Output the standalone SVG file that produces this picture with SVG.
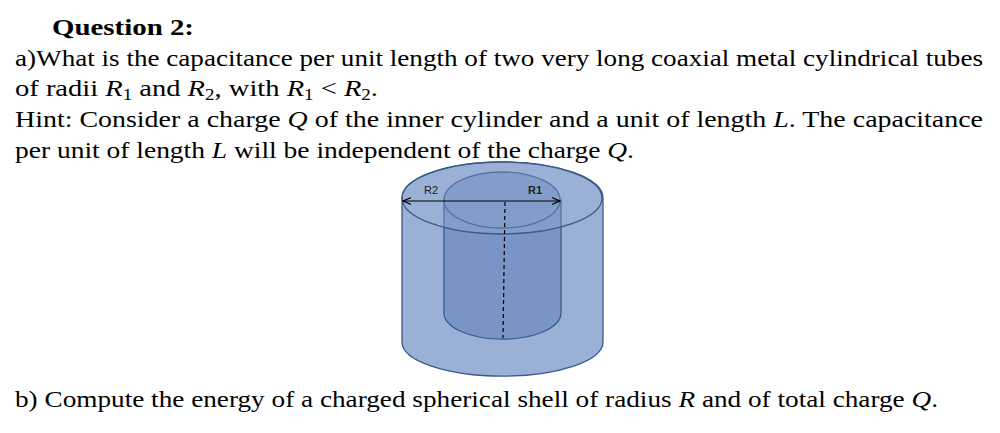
<svg xmlns="http://www.w3.org/2000/svg" width="1000" height="433" viewBox="0 0 1000 433">
<style>
.t{font-family:"Liberation Serif",serif;font-size:24px;fill:#000}
.i{font-style:italic}
.s{font-size:16px}
.sh{stroke:#3a5a8a;stroke-width:1.3}
.lb{font-family:"Liberation Sans",sans-serif;font-size:11px;fill:#222}
</style>
<defs><marker id="a" markerWidth="8" markerHeight="8" refX="7" refY="4" orient="auto-start-reverse"><path d="M0,1 L7,4 L0,7" fill="none" stroke="#000" stroke-width="1"/></marker></defs>
<rect width="1000" height="433" fill="#fff"/>
<text class="t" x="52" y="35" font-weight="bold" textLength="142" lengthAdjust="spacingAndGlyphs">Question 2:</text>
<text class="t" x="15" y="66" textLength="968" lengthAdjust="spacingAndGlyphs">a)What is the capacitance per unit length of two very long coaxial metal cylindrical tubes</text>
<text class="t" x="15" y="96" textLength="363" lengthAdjust="spacingAndGlyphs">of radii <tspan class="i">R</tspan><tspan class="s" dy="4">1</tspan><tspan dy="-4"> and </tspan><tspan class="i">R</tspan><tspan class="s" dy="4">2</tspan><tspan dy="-4">, with </tspan><tspan class="i">R</tspan><tspan class="s" dy="4">1</tspan><tspan dy="-4"> &lt; </tspan><tspan class="i">R</tspan><tspan class="s" dy="4">2</tspan><tspan dy="-4">.</tspan></text>
<text class="t" x="15" y="127" textLength="968" lengthAdjust="spacingAndGlyphs">Hint: Consider a charge <tspan class="i">Q</tspan> of the inner cylinder and a unit of length <tspan class="i">L</tspan>. The capacitance</text>
<text class="t" x="15" y="158" textLength="619" lengthAdjust="spacingAndGlyphs">per unit of length <tspan class="i">L</tspan> will be independent of the charge <tspan class="i">Q</tspan>.</text>
<g id="outer">
<path class="sh" d="M402,198 A100,36 0 0 1 603,198 V342 A100,34 0 0 1 402,342 Z" fill="#9ab0d6"/>
</g>
<g id="inner">
<path class="sh" d="M444,200 V313 A58,26 0 0 0 561,313 V200 Z" fill="#7895c5"/>
<ellipse class="sh" cx="502" cy="200" rx="58" ry="28" fill="#7895c5"/>
</g>
<g id="outertop">
<ellipse class="sh" cx="502" cy="198" rx="100" ry="36" fill="#9ab0d6" fill-opacity="0.3"/>
</g>
<g id="connectors">
<line x1="403" y1="201" x2="560" y2="201" stroke="#000" stroke-width="1.2" marker-start="url(#a)" marker-end="url(#a)"/>
<line x1="505" y1="202" x2="503" y2="338" stroke="#000" stroke-width="1.2" stroke-dasharray="4,3"/>
</g>
<text class="lb" x="424" y="194">R2</text>
<text class="lb" x="528" y="194" font-weight="bold">R1</text>
<text class="t" x="15" y="407" textLength="923" lengthAdjust="spacingAndGlyphs">b) Compute the energy of a charged spherical shell of radius <tspan class="i">R</tspan> and of total charge <tspan class="i">Q</tspan>.</text>
</svg>
